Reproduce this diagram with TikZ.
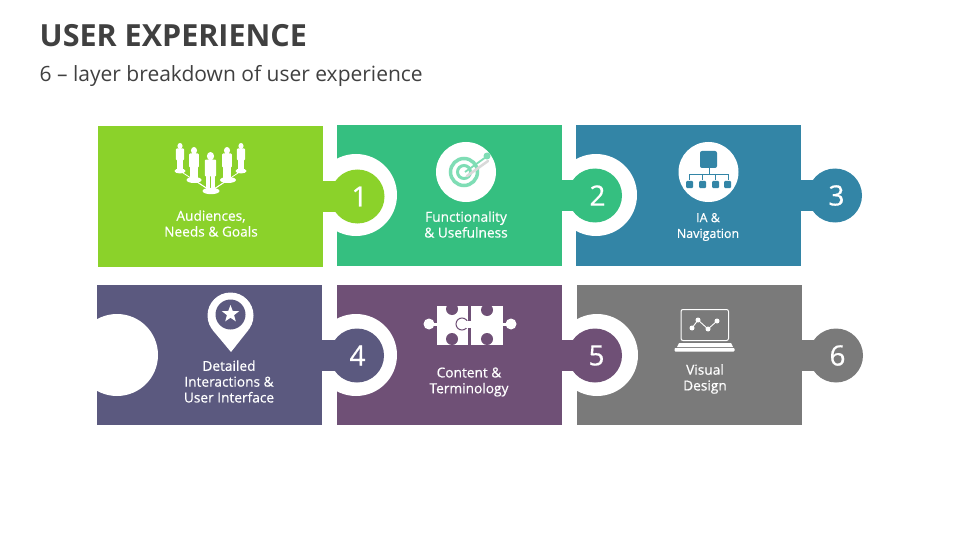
\documentclass[tikz,border=0pt]{standalone}
\usepackage{fontspec}
\setmainfont{Open Sans}
\newfontfamily\labelfont{Open Sans}[FakeBold=0.5]
\usetikzlibrary{shapes.geometric}
\definecolor{grpA}{HTML}{8BD22A}
\definecolor{grpB}{HTML}{35BF80}
\definecolor{grpC}{HTML}{3385A6}
\definecolor{grpD}{HTML}{5B597F}
\definecolor{grpE}{HTML}{6F5076}
\definecolor{grpF}{HTML}{7A7A7A}
\definecolor{ringtone}{HTML}{7FDDB5}
\definecolor{inktone}{HTML}{404040}
\tikzset{
  panel/.style={shape=rectangle,minimum width=225pt,minimum height=141pt,inner sep=0pt,outer sep=0pt},
  ring/.style={shape=circle,fill=white,minimum size=82pt,inner sep=0pt,outer sep=0pt},
  num/.style={shape=circle,minimum size=54pt,inner sep=0pt,outer sep=0pt,text=white,font=\labelfont\fontsize{28}{32}\selectfont},
  tab/.style={line width=31pt},
  caption/.style={align=center,text=white,inner sep=0pt,font=\labelfont\fontsize{13.7}{15.8}\selectfont}
}
% one standing figure: x, top, height
\newcommand{\figperson}[3]{
  \begin{scope}[shift={(#1,#2)},scale=#3]
    \fill[white] (0,0.11) ellipse (0.095 and 0.11);
    \fill[white] (-0.05,0.15) rectangle (0.05,0.3);
    \fill[white,rounded corners=1pt] (-0.15,0.2) rectangle (0.15,0.64);
    \fill[white] (-0.11,0.58) rectangle (-0.01,1);
    \fill[white] (0.01,0.58) rectangle (0.11,1);
  \end{scope}
}
\begin{document}
\begin{tikzpicture}[x=1pt,y=-1pt]
    \useasboundingbox (0,0) rectangle (960,540);
    \node[anchor=west,inner sep=0pt,text=inktone,font=\fontsize{30.5}{36}\bfseries\selectfont] (title) at (39.5,35.5) {USER EXPERIENCE};
    \node[anchor=west,inner sep=0pt,text=inktone,font=\fontsize{21}{24}\selectfont] (subtitle) at (39.5,76) {6 -- layer breakdown of user experience};
    %top row%
    \node[panel,fill=grpC] (pC) at (688.5,195.5) {};
    \node[ring] (rB) at (596,195) {};
    \node[panel,fill=grpB] (pB) at (449,195.5) {};
    \node[ring] (rA) at (356,195) {};
    \node[panel,fill=grpA] (pA) at (210.5,196.5) {};
    %bottom row%
    \node[panel,fill=grpF,minimum height=140pt] (pF) at (689.5,355) {};
    \node[ring] (rE) at (597,355) {};
    \node[panel,fill=grpE,minimum height=140pt] (pE) at (449,355) {};
    \node[ring] (rD) at (356,355) {};
    \node[panel,fill=grpD,minimum height=140pt] (pD) at (209.5,355) {};
    \node[ring] (rZ) at (117,355) {};
    %tabs and numbers%
    \coordinate (hA) at (357.5,196.5);
    \coordinate (hB) at (595,195.5);
    \coordinate (hC) at (835,195.5);
    \coordinate (hD) at (357,355.5);
    \coordinate (hE) at (595,355.5);
    \coordinate (hF) at (836,355.5);
    \draw[tab,grpA] (pA.east |- hA) -- (hA);
    \draw[tab,grpB] (pB.east |- hB) -- (hB);
    \draw[tab,grpC] (pC.east |- hC) -- (hC);
    \draw[tab,grpD] (pD.east |- hD) -- (hD);
    \draw[tab,grpE] (pE.east |- hE) -- (hE);
    \draw[tab,grpF] (pF.east |- hF) -- (hF);
    \node[num,fill=grpA] (nA) at (hA) {\hspace{4pt}1};
    \node[num,fill=grpB] (nB) at (hB) {\hspace{5pt}2};
    \node[num,fill=grpC] (nC) at (hC) {\hspace{3pt}3};
    \node[num,fill=grpD] (nD) at (hD) {\hspace{1pt}4};
    \node[num,fill=grpE] (nE) at (hE) {\hspace{3pt}5};
    \node[num,fill=grpF] (nF) at (hF) {\hspace{3pt}6};
    %captions%
    \node[caption] (cA) at (211,223.5) {Audiences,\\Needs \& Goals};
    \node[caption] (cB) at (466,224.5) {Functionality\\\& Usefulness};
    \node[caption,font=\labelfont\fontsize{12.5}{15.8}\selectfont] (cC) at (708,227) {IA \&\\Navigation};
    \node[caption] (cD) at (229,381.5) {Detailed\\Interactions \&\\User Interface};
    \node[caption] (cE) at (469,382) {Content \&\\Terminology};
    \node[caption] (cF) at (705,379) {Visual\\Design};
    %people%
    \draw[white,line width=0.8pt] (180,171) -- (211,191) -- (241,171);
    \draw[white,line width=0.8pt] (194,180) -- (211,191) -- (228,180);
    \fill[white] (180,171) ellipse (5.5 and 2.5);
    \fill[white] (241,171) ellipse (5.5 and 2.5);
    \fill[white] (194,180) ellipse (7.5 and 3);
    \fill[white] (228,180) ellipse (8 and 3);
    \fill[white] (211,191) ellipse (8.5 and 3.2);
    \figperson{180}{143}{27}
    \figperson{241}{143}{27}
    \figperson{194}{147}{32}
    \figperson{227}{147}{32}
    \figperson{210.5}{152}{38}
    %target%
    \node[shape=circle,fill=white,minimum size=60pt] (target) at (466,172) {};
    \draw[ringtone,line width=3.5pt] (464,172) circle (13.5);
    \draw[ringtone,line width=3pt] (464,172) circle (6.5);
    \draw[black!15,line width=2.5pt,line cap=round] (467,176) -- (488,161);
    \draw[ringtone,line width=1.8pt] (465,172) -- (486,157);
    \fill[ringtone] (487,156) circle (3.5);
    %hierarchy%
    \node[shape=circle,fill=white,minimum size=60pt] (chart) at (708.5,172) {};
    \fill[grpC,rounded corners=2pt] (700,151) rectangle (717,168);
    \draw[grpC,line width=0.8pt] (709,168) -- (709,174);
    \draw[grpC,line width=0.8pt] (689,180) -- (689,174) -- (728,174) -- (728,180);
    \draw[grpC,line width=0.8pt] (702,174) -- (702,180);
    \draw[grpC,line width=0.8pt] (715,174) -- (715,180);
    \fill[grpC,rounded corners=1pt] (686,181) rectangle (693,188);
    \fill[grpC,rounded corners=1pt] (699,181) rectangle (706,188);
    \fill[grpC,rounded corners=1pt] (712,181) rectangle (719,188);
    \fill[grpC,rounded corners=1pt] (724,181) rectangle (731,188);
    %pin%
    \fill[white] (230.5,315.5) circle (23);
    \fill[white] (212.6,330) -- (248.4,330) -- (231,352) -- cycle;
    \fill[grpD] (230.5,314.5) circle (15);
    \node[shape=star,star points=5,star point ratio=2.4,fill=white,minimum size=18pt,inner sep=0pt] (pinstar) at (230.5,314) {};
    %puzzle%
    \fill[white] (437,306) rectangle (468,345);
    \fill[white] (471,306) rectangle (503,345);
    \fill[white] (429,324) circle (5.5);
    \fill[white] (511,324) circle (5.5);
    \fill[white] (429,322.5) rectangle (438,325.5);
    \fill[white] (503,322.5) rectangle (511,325.5);
    \fill[grpE] (452,309) circle (6);
    \fill[grpE] (452,339) circle (6);
    \fill[grpE] (487,310) circle (6);
    \fill[grpE] (487,339) circle (6);
    \draw[grpE,line width=1pt] (462,324) circle (6);
    \fill[white] (466,320.5) rectangle (472,327.5);
    %laptop%
    \draw[white,line width=1pt,rounded corners=2pt] (681,309.5) rectangle (728.5,340.5);
    \fill[white] (679,343) -- (731,343) -- (733,347) -- (677,347) -- cycle;
    \fill[white,rounded corners=0.8pt] (674.5,348) rectangle (734.5,351.5);
    \draw[white,line width=0.9pt] (692,328) -- (698,320) -- (708,329) -- (717,321);
    \fill[white] (692,328) circle (2.5);
    \fill[white] (698,320) circle (2.5);
    \fill[white] (708,329) circle (2.5);
    \fill[white] (717,321) circle (2.5);
\end{tikzpicture}
\end{document}
